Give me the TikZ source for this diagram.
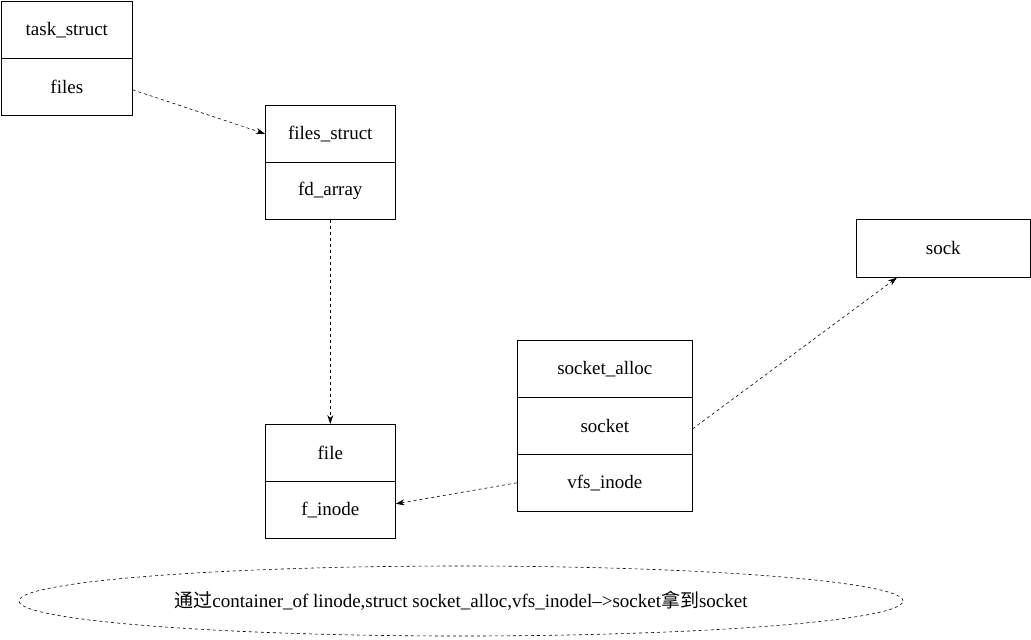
\documentclass[tikz,border=0pt]{standalone}
\usepackage{fontspec}
\setmainfont{Liberation Serif}
\newfontfamily\cjk{Noto Sans CJK SC}
\usetikzlibrary{arrows.meta,shapes.geometric}
\begin{document}
\begin{tikzpicture}[x=1pt,y=-1pt,
  cell/.style={draw,line width=0.6pt,minimum width=#1,minimum height=57pt,inner sep=0pt,font=\fontsize{19}{22}\selectfont},
  link/.style={draw,dashed,line width=0.6pt,-{Stealth[length=9pt,width=6pt]}}]
\useasboundingbox (0,0) rectangle (1031,640);
\node[cell=131pt,anchor=north west] (ts) at (1,1) {task\_struct};
\node[cell=131pt,anchor=north west] (files) at (1,58) {files};
\node[cell=130pt,anchor=north west] (fs) at (265,105) {files\_struct};
\node[cell=130pt,anchor=north west] (fd) at (265,162) {fd\_array};
\node[cell=130pt,anchor=north west] (file) at (265,424) {file};
\node[cell=130pt,anchor=north west] (fi) at (265,481) {f\_inode};
\node[cell=175pt,anchor=north west] (sa) at (517,340) {socket\_alloc};
\node[cell=175pt,anchor=north west] (so) at (517,397) {socket};
\node[cell=175pt,anchor=north west] (vi) at (517,454) {vfs\_inode};
\node[cell=174pt,anchor=north west,minimum height=58pt] (sock) at (856,219) {sock};
\node[ellipse,draw,dashed,line width=0.6pt,minimum width=884pt,minimum height=70pt,inner sep=0pt,font=\fontsize{19}{22}\selectfont] (note) at (461,601)
  {{\cjk 通过}container\_of linode,struct socket\_alloc,vfs\_inodel\textendash>socket{\cjk 拿到}socket};
\draw[link] (files.east) ++(0,3) coordinate (a1) -- (fs.west);
\draw[link] (fd.south) -- (file.north);
\draw[link] (so.east) ++(0,3) coordinate (a2) -- ([xshift=41pt]sock.south west);
\draw[link] (vi.west) ++(0,0) coordinate (a3) -- ([yshift=6pt]fi.east);
\end{tikzpicture}
\end{document}
